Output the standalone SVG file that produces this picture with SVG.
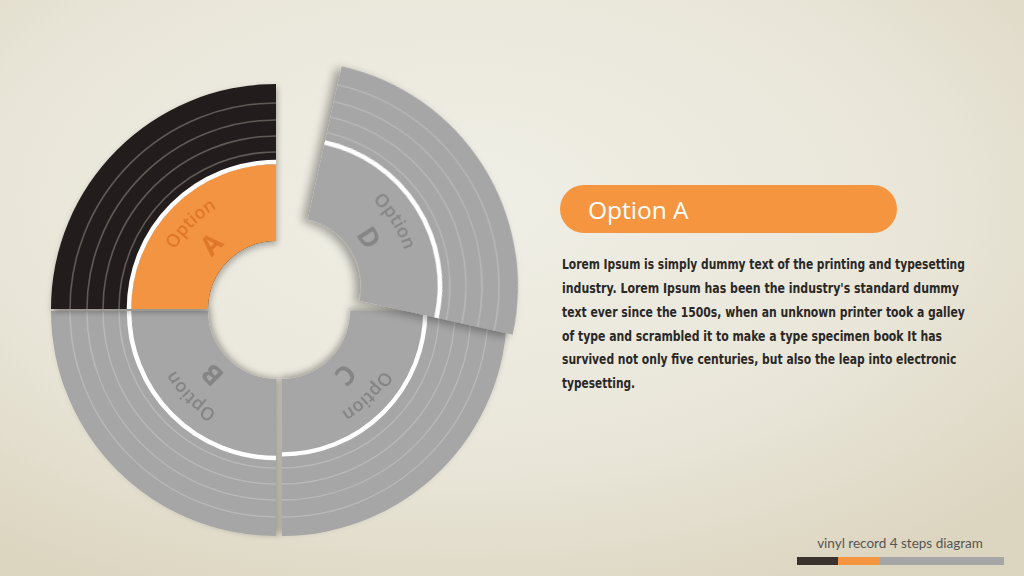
<svg xmlns="http://www.w3.org/2000/svg" xmlns:xlink="http://www.w3.org/1999/xlink" width="1024" height="576" viewBox="0 0 1024 576">
  <defs>
    <radialGradient id="bg" cx="45%" cy="35%" r="75%">
      <stop offset="0" stop-color="#F0EFE6"/>
      <stop offset="0.6" stop-color="#E9E6D9"/>
      <stop offset="1" stop-color="#DCD5C0"/>
    </radialGradient>
    <filter id="sh" x="-20%" y="-20%" width="140%" height="140%">
      <feDropShadow dx="1" dy="3" stdDeviation="3" flood-color="#000" flood-opacity="0.3"/>
    </filter>
    <filter id="shD" x="-20%" y="-20%" width="140%" height="140%">
      <feDropShadow dx="3" dy="5" stdDeviation="5" flood-color="#000" flood-opacity="0.35"/>
    </filter>
    <path id="quad" d="M -225 0 A 225 225 0 0 1 0 -225 L 0 -68 A 68 68 0 0 0 -68 0 Z"/>
    <path id="inner" d="M -145 0 A 145 145 0 0 1 0 -145 L 0 -68 A 68 68 0 0 0 -68 0 Z"/>
    <path id="ring" d="M -147 0 A 147 147 0 0 1 0 -147"/>
    <path id="g1" d="M -157 0 A 157 157 0 0 1 0 -157"/>
    <path id="g2" d="M -173 0 A 173 173 0 0 1 0 -173"/>
    <path id="g3" d="M -189 0 A 189 189 0 0 1 0 -189"/>
    <path id="g4" d="M -206 0 A 206 206 0 0 1 0 -206"/>
    <path id="lbl" d="M -117 0 A 117 117 0 0 1 0 -117"/>
    <style>
      .ring{fill:none;stroke:#FFFFFF;stroke-width:4.5}
      .gd{fill:none;stroke:#5E5A57;stroke-width:1.6}
      .gl{fill:none;stroke:#B9B9B9;stroke-width:1.3}
      .opt{font-family:"Open Sans","DejaVu Sans",sans-serif;font-size:18px;font-weight:600;text-anchor:middle}
      .let{font-family:"Open Sans","DejaVu Sans",sans-serif;font-size:27px;font-weight:700;text-anchor:middle}
      .gray{fill:#858585}
      .org{fill:#DF772A}
      .body{font-family:"Liberation Sans Narrow","DejaVu Sans Condensed","Roboto Condensed","Liberation Sans",sans-serif;font-stretch:condensed;font-weight:bold;font-size:14.5px;fill:#2A2826}
    </style>
  </defs>

  <rect width="1024" height="576" fill="url(#bg)"/>

  <g id="nodeB" transform="translate(276,311) rotate(-90)" filter="url(#sh)">
    <use href="#quad" fill="#A6A6A6"/>
    <use href="#g1" class="gl"/><use href="#g2" class="gl"/><use href="#g3" class="gl"/><use href="#g4" class="gl"/>
    <use href="#ring" class="ring"/>
    <text class="opt gray"><textPath href="#lbl" startOffset="50%">Option</textPath></text>
    <text class="let gray" transform="translate(-57,-57) rotate(-45)">B</text>
  </g>

  <g id="nodeC" transform="translate(282,311) rotate(180)" filter="url(#sh)">
    <use href="#quad" fill="#A6A6A6"/>
    <use href="#g1" class="gl"/><use href="#g2" class="gl"/><use href="#g3" class="gl"/><use href="#g4" class="gl"/>
    <use href="#ring" class="ring" transform="scale(0.975)"/>
    <text class="opt gray"><textPath href="#lbl" startOffset="50%">Option</textPath></text>
    <text class="let gray" transform="translate(-57,-57) rotate(-45)">C</text>
  </g>

  <g id="nodeA" transform="translate(276,309)" filter="url(#sh)">
    <use href="#quad" fill="#231F1D"/>
    <use href="#g1" class="gd"/><use href="#g2" class="gd"/><use href="#g3" class="gd"/><use href="#g4" class="gd"/>
    <use href="#inner" fill="#F39442"/>
    <use href="#ring" class="ring"/>
    <text class="opt org"><textPath href="#lbl" startOffset="50%">Option</textPath></text>
    <text class="let org" transform="translate(-58,-58) rotate(-45)">A</text>
  </g>

  <g id="nodeD" transform="translate(293,286) rotate(102.5)" filter="url(#shD)">
    <use href="#quad" fill="#A6A6A6"/>
    <use href="#g1" class="gl"/><use href="#g2" class="gl"/><use href="#g3" class="gl"/><use href="#g4" class="gl"/>
    <use href="#ring" class="ring"/>
    <text class="opt gray"><textPath href="#lbl" startOffset="50%">Option</textPath></text>
    <text class="let gray" transform="translate(-57,-57) rotate(-45)">D</text>
  </g>

  <g id="connectors"></g>

  <g id="heading">
    <rect x="560" y="185" width="337" height="48" rx="24" fill="#F5953F"/>
    <text x="588" y="219" font-family="'Open Sans','Lato',sans-serif" font-size="24.5" fill="#FFFFFF">Option A</text>
  </g>

  <g id="bodyText" transform="translate(562,0) scale(0.85,1)">
    <text class="body" x="0" y="269" textLength="474" lengthAdjust="spacingAndGlyphs">Lorem Ipsum is simply dummy text of the printing and typesetting</text>
    <text class="body" x="0" y="293" textLength="467" lengthAdjust="spacingAndGlyphs">industry. Lorem Ipsum has been the industry's standard dummy</text>
    <text class="body" x="0" y="317" textLength="474" lengthAdjust="spacingAndGlyphs">text ever since the 1500s, when an unknown printer took a galley</text>
    <text class="body" x="0" y="341" textLength="447" lengthAdjust="spacingAndGlyphs">of type and scrambled it to make a type specimen book It has</text>
    <text class="body" x="0" y="364" textLength="464" lengthAdjust="spacingAndGlyphs">survived not only five centuries, but also the leap into electronic</text>
    <text class="body" x="0" y="388" textLength="86" lengthAdjust="spacingAndGlyphs">typesetting.</text>
  </g>

  <g id="footer">
    <text x="900" y="548" font-family="Lato,'Open Sans',sans-serif" font-size="13.5" fill="#555555" text-anchor="middle">vinyl record 4 steps diagram</text>
    <rect x="797" y="557" width="41" height="8" fill="#3A322D"/>
    <rect x="838" y="557" width="42" height="8" fill="#F5953F"/>
    <rect x="880" y="557" width="124" height="8" fill="#A6A6A6"/>
  </g>
</svg>
